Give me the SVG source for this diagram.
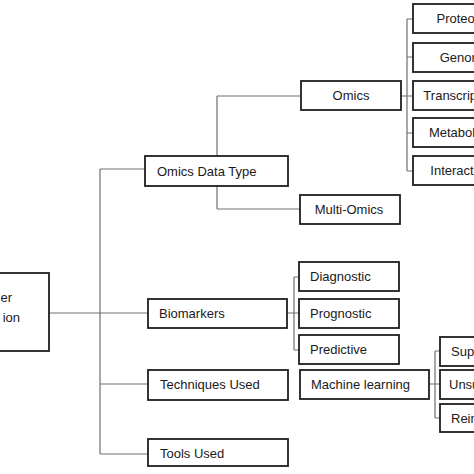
<svg xmlns="http://www.w3.org/2000/svg" width="474" height="474" viewBox="0 0 474 474">
<style>
rect.b{fill:#fff;stroke:#1e1e1e;stroke-width:1.8}
text{font-family:"Liberation Sans",Arial,sans-serif;font-size:13px;fill:#1a1a1a}
.c{text-anchor:middle}
.e{text-anchor:end}
#connectors path{fill:none;stroke:#707070;stroke-width:1.2}
</style>
<rect width="474" height="474" fill="#fff"/>
<g id="connectors">
<path d="M49 313H148M100 169V454M100 169H145M100 384H148M100 454H148"/>
<path d="M217 96V209M217 96H301M217 209H300"/>
<path d="M401 96H413M407 19V171M407 19H413M407 57H413M407 133H413M407 171H413"/>
<path d="M287 313H299M294 277V350M294 277H299M294 350H299"/>
<path d="M429 384H440M435 351V418M435 351H440M435 418H440"/>
</g>
<g id="root"><rect class="b" x="-20" y="273" width="69" height="78"/><text class="e" x="12" y="302">er</text><text class="e" x="20" y="322">ion</text></g>
<g id="omics-data-type"><rect class="b" x="145" y="156" width="143" height="30"/><text x="157" y="176">Omics Data Type</text></g>
<g id="biomarkers"><rect class="b" x="148" y="299" width="139" height="29"/><text x="159" y="318">Biomarkers</text></g>
<g id="techniques-used"><rect class="b" x="148" y="370" width="140" height="30"/><text x="160" y="389">Techniques Used</text></g>
<g id="tools-used"><rect class="b" x="148" y="439" width="140" height="27"/><text x="160" y="458">Tools Used</text></g>
<g id="omics"><rect class="b" x="301" y="81" width="100" height="29"/><text class="c" x="351" y="100">Omics</text></g>
<g id="multi-omics"><rect class="b" x="300" y="195" width="100" height="29"/><text class="c" x="349" y="214">Multi-Omics</text></g>
<g id="proteomics"><rect class="b" x="413" y="4" width="112" height="29"/><text class="c" x="469" y="23">Proteomics</text></g>
<g id="genomics"><rect class="b" x="413" y="43" width="112" height="29"/><text class="c" x="469" y="62">Genomics</text></g>
<g id="transcriptomics"><rect class="b" x="413" y="81" width="112" height="29"/><text class="c" x="469" y="100">Transcriptomics</text></g>
<g id="metabolomics"><rect class="b" x="413" y="118" width="112" height="29"/><text class="c" x="469" y="137">Metabolomics</text></g>
<g id="interactomics"><rect class="b" x="413" y="156" width="112" height="29"/><text class="c" x="469" y="175">Interactomics</text></g>
<g id="diagnostic"><rect class="b" x="299" y="262" width="100" height="29"/><text x="310" y="281">Diagnostic</text></g>
<g id="prognostic"><rect class="b" x="299" y="299" width="100" height="29"/><text x="310" y="318">Prognostic</text></g>
<g id="predictive"><rect class="b" x="299" y="335" width="100" height="29"/><text x="310" y="354">Predictive</text></g>
<g id="machine-learning"><rect class="b" x="300" y="370" width="129" height="29"/><text x="311" y="389">Machine learning</text></g>
<g id="supervised"><rect class="b" x="440" y="337" width="80" height="29"/><text x="451" y="356">Supervised</text></g>
<g id="unsupervised"><rect class="b" x="440" y="370" width="80" height="29"/><text x="449" y="389">Unsupervised</text></g>
<g id="reinforcement"><rect class="b" x="440" y="404" width="80" height="28"/><text x="451" y="423">Reinforcement</text></g>
</svg>
